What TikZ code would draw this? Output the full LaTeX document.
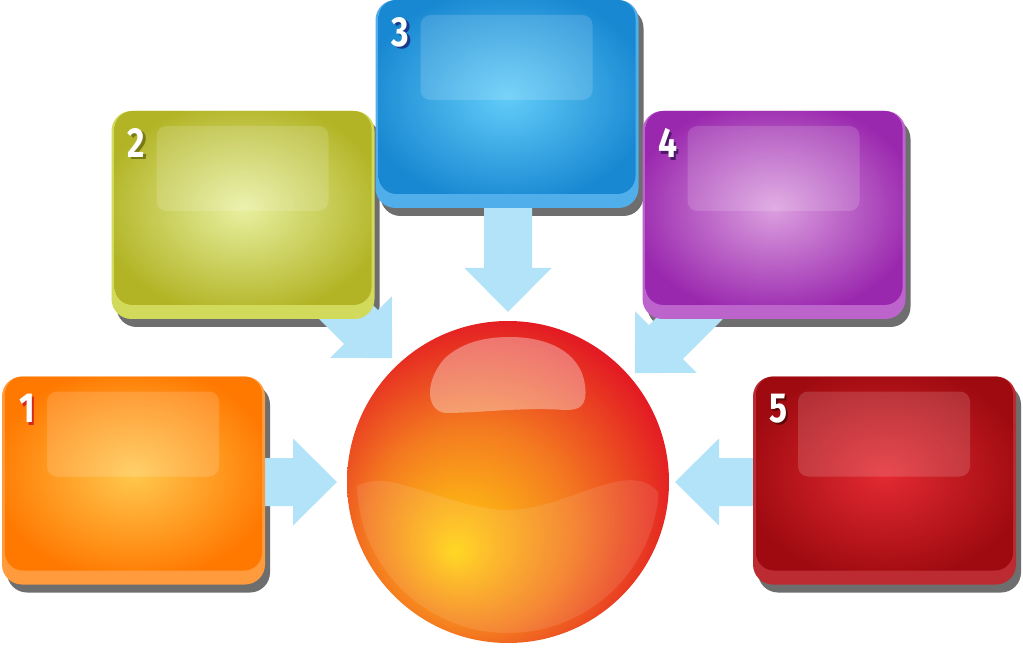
\documentclass[tikz,border=0pt]{standalone}
\usepackage{fontspec}
\newfontfamily\numfont{Fira Sans}
\usetikzlibrary{calc}
\pgfdeclarelayer{bg}
\pgfsetlayers{bg,main}

\definecolor{arrowblue}{HTML}{B3E3F8}
\definecolor{shadowgray}{HTML}{6E6E6E}
\definecolor{inA}{HTML}{FFC84E}\definecolor{outA}{HTML}{FF7800}\definecolor{rimA}{HTML}{FF9B3D}\definecolor{nsA}{HTML}{D8281C}
\definecolor{inB}{HTML}{E8F0A0}\definecolor{outB}{HTML}{B2B425}\definecolor{rimB}{HTML}{D2DA5C}\definecolor{nsB}{HTML}{7A7A14}
\definecolor{inC}{HTML}{62CCF8}\definecolor{outC}{HTML}{1888D2}\definecolor{rimC}{HTML}{50AEEA}\definecolor{nsC}{HTML}{1A3A8E}
\definecolor{inD}{HTML}{DCA0E0}\definecolor{outD}{HTML}{9A28AE}\definecolor{rimD}{HTML}{BC64CC}\definecolor{nsD}{HTML}{4C1868}
\definecolor{inE}{HTML}{E42A32}\definecolor{outE}{HTML}{9E0A10}\definecolor{rimE}{HTML}{BC2A32}\definecolor{nsE}{HTML}{5A0808}
\definecolor{ballY}{HTML}{FFD40C}\definecolor{ballY2}{HTML}{FDB515}\definecolor{ballO}{HTML}{F47A20}\definecolor{ballR}{HTML}{E31B23}

\pgfdeclareradialshading{shA}{\pgfpointorigin}{color(0bp)=(inA); color(28bp)=(outA); color(50bp)=(outA)}
\pgfdeclareradialshading{shB}{\pgfpointorigin}{color(0bp)=(inB); color(28bp)=(outB); color(50bp)=(outB)}
\pgfdeclareradialshading{shC}{\pgfpointorigin}{color(0bp)=(inC); color(28bp)=(outC); color(50bp)=(outC)}
\pgfdeclareradialshading{shD}{\pgfpointorigin}{color(0bp)=(inD); color(28bp)=(outD); color(50bp)=(outD)}
\pgfdeclareradialshading{shE}{\pgfpointorigin}{color(0bp)=(inE); color(28bp)=(outE); color(50bp)=(outE)}
\pgfdeclareradialshading{ballsh}{\pgfpoint{-8.5bp}{-11bp}}{color(0bp)=(ballY); color(5bp)=(ballY2); color(16bp)=(ballO); color(30bp)=(ballR); color(50bp)=(ballR)}

\tikzset{
  boxstyle/.style={rectangle, rounded corners=20pt, minimum width=263pt, minimum height=208pt, inner sep=0pt, outer sep=0pt},
  numstyle/.style={inner sep=0pt, outer sep=0pt, font=\numfont\bfseries\fontsize{42}{42}\selectfont},
  ballstyle/.style={circle, minimum size=322pt, inner sep=0pt, outer sep=0pt, shading=ballsh},
  blockarrow/.style={fill=arrowblue}
}

\newcommand\glossybox[6]{%
  \node[boxstyle, fill=#3] (#1) at #2 {};
  \shade[shading=#4, rounded corners=18pt] ($(#1.north west)+(3,0)$) rectangle ($(#1.south east)+(-3,-14)$);
  \fill[white, opacity=0.15, rounded corners=10pt] ($(#1.north west)+(45,15)$) rectangle ($(#1.north east)+(-46,100)$);
  \node[numstyle, text=#6] (#1ns) at ($(#1.north west)+(27.5,34.5)$) {\scalebox{0.8}[1]{#5}};
  \node[numstyle, text=white] (#1n) at ($(#1.north west)+(25,32)$) {\scalebox{0.8}[1]{#5}};
  \begin{pgfonlayer}{bg}
    \fill[shadowgray, rounded corners=20pt] ($(#1.north west)+(5,8)$) rectangle ($(#1.south east)+(5,8)$);
  \end{pgfonlayer}
}

\newcommand\barrow[3]{%
  \begin{pgfonlayer}{bg}
  \fill[blockarrow, shift={#1}, rotate=#2] (0,0) -- (-44,43.5) -- (-44,24) -- (-#3,24) -- (-#3,-24) -- (-44,-24) -- (-44,-43.5) -- cycle;
  \end{pgfonlayer}
}

\begin{document}
\begin{tikzpicture}[x=1pt,y=-1pt]
\begin{pgfonlayer}{bg}
\fill[white] (0,0) rectangle (1023,660);
\end{pgfonlayer}
\useasboundingbox (0,0) rectangle (1023,660);

\glossybox{b1}{(133.5,480.5)}{rimA}{shA}{1}{nsA}
\glossybox{b2}{(243,215)}{rimB}{shB}{2}{nsB}
\glossybox{b3}{(507,104)}{rimC}{shC}{3}{nsC}
\glossybox{b4}{(774,215)}{rimD}{shD}{4}{nsD}
\glossybox{b5}{(884.5,480.5)}{rimE}{shE}{5}{nsE}

\node[ballstyle] (ball) at (508,482) {};

% glossy highlights on the ball
\fill[white, opacity=0.35] (445,413) .. controls (425,410) and (425,380) .. (445,358)
  .. controls (465,340) and (490,337) .. (510,337)
  .. controls (545,337) and (580,350) .. (585,385)
  .. controls (588,408) and (578,410) .. (565,410)
  .. controls (520,407) and (480,413) .. (445,413) -- cycle;
\begin{scope}
  \clip (ball.center) circle [radius=151pt];
  \fill[white, opacity=0.1] (340,490) -- (362,484) .. controls (372,480) and (385,480) .. (400,484)
    .. controls (440,495) and (475,510) .. (507,510)
    .. controls (545,510) and (580,490) .. (615,482)
    .. controls (635,478) and (650,480) .. (660,495) -- (690,700) -- (330,700) -- cycle;
\end{scope}

% arrows from the boxes to the ball
\barrow{($(ball.west)+(-10,0)$)}{0}{80}
\barrow{($(ball.east)+(6,0)$)}{180}{85}
\barrow{($(ball.north)+(0,-9)$)}{-90}{110}
\barrow{($(ball.135)+(-2,-10)$)}{-45}{100}
\barrow{($(ball.45)+(13,5)$)}{-135}{100}
\end{tikzpicture}
\end{document}
